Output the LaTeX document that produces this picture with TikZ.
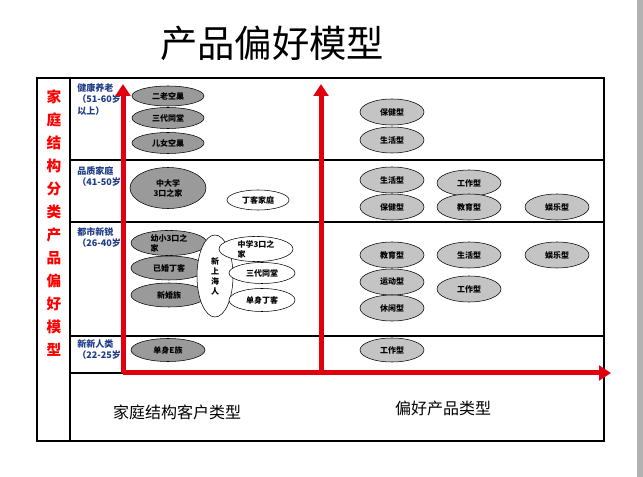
\documentclass[tikz,border=0pt]{standalone}
\usepackage{fontspec}
\setmainfont{Noto Sans CJK SC}
\usetikzlibrary{arrows.meta,shapes.geometric}
\definecolor{axisred}{HTML}{E00010}
\definecolor{darkfill}{HTML}{9A9A9A}
\definecolor{lightfill}{HTML}{C4C4C4}
\definecolor{rowblue}{HTML}{1F3C88}
\tikzset{every node/.style={font=\fontsize{6}{7.5}\selectfont\bfseries},line cap=round,line join=round}
\tikzset{
  esize/.style 2 args={minimum width=#1*0.75pt,minimum height=#2*0.75pt},
  darkell/.style={ellipse,draw,fill=darkfill,inner sep=0pt},
  lightell/.style={ellipse,draw,fill=lightfill,inner sep=0pt,esize={64}{26}},
  whiteell/.style={ellipse,draw,fill=white,inner sep=0pt},
  rowlabel/.style={anchor=north west,align=left,text=rowblue,inner sep=0pt,font=\fontsize{6.8}{8.6}\selectfont\bfseries},
  axis/.style={draw=axisred,line width=3.75pt,-{Triangle[length=9pt,width=11pt]}}
}

\begin{document}
\begin{tikzpicture}[x=0.75pt,y=-0.75pt]
  \path[use as bounding box] (0,0) rectangle (643,477);
  \fill[black!30] (637,0) rectangle (643,477);
  % table
  \draw[line width=1.1pt] (37,78) rectangle (604,441);
  \draw[line width=1.1pt] (70,78) -- (70,441);
  \foreach \y in {160,222,336,373}
    \draw[line width=1.1pt] (70,\y) -- (604,\y);
  % titles
  \node[font=\fontsize{28}{30}\selectfont] (title) at (272,43) {产品偏好模型};
  \node[text=red,align=center,font=\fontsize{11}{17.25}\selectfont\bfseries] (side) at (54,223.5)
    {家\\庭\\结\\构\\分\\类\\产\\品\\偏\\好\\模\\型};
  \node[font=\fontsize{12}{14}\selectfont] (custtype) at (177,412) {家庭结构客户类型};
  \node[font=\fontsize{12}{14}\selectfont] (preftype) at (443,408) {偏好产品类型};
  % row labels
  \node[rowlabel] (row1) at (77,83) {健康养老\\（51-60岁\\以上）};
  \node[rowlabel] (row2) at (77,166) {品质家庭\\（41-50岁）};
  \node[rowlabel] (row3) at (77,227) {都市新锐\\（26-40岁）};
  \node[rowlabel] (row4) at (77,339) {新新人类\\（22-25岁）};
  % customer types
  \node[darkell,esize={72}{20}] (erlao) at (168,96) {二老空巢};
  \node[darkell,esize={72}{21}] (sandai) at (168,118) {三代同堂};
  \node[darkell,esize={72}{21}] (ernv) at (168,143) {儿女空巢};
  \node[darkell,esize={76}{41},align=center] (zhongda) at (168,188) {中大学\\3口之家};
  \node[whiteell,esize={62}{20}] (dingke) at (258,200) {丁客家庭};
  \node[darkell,esize={76}{24},align=left] (youxiao) at (169,243) {幼小3口之\\家};
  \node[darkell,esize={76}{24}] (yihun) at (169,268) {已婚丁客};
  \node[darkell,esize={76}{24}] (xinhun) at (169,295) {新婚族};
  \node[whiteell,esize={36}{82},align=center] (xinshang) at (215,276) {新\\上\\海\\人};
  \node[whiteell,esize={74}{23},align=left] (zhongxue) at (256,249) {中学3口之\\家};
  \node[whiteell,esize={66}{21}] (sandaiw) at (262,273) {三代同堂};
  \node[whiteell,esize={66}{23}] (danshen) at (262,300) {单身丁客};
  \node[darkell,esize={74}{23}] (danshenE) at (168,350) {单身E族};
  % preference types
  \node[lightell] (baojian1) at (392,112) {保健型};
  \node[lightell] (shenghuo1) at (392,140) {生活型};
  \node[lightell] (shenghuo2) at (392,180) {生活型};
  \node[lightell] (gongzuo2) at (469,183) {工作型};
  \node[lightell] (baojian2) at (392,207) {保健型};
  \node[lightell] (jiaoyu2) at (469,207) {教育型};
  \node[lightell] (yule2) at (557,207) {娱乐型};
  \node[lightell] (jiaoyu3) at (392,255) {教育型};
  \node[lightell] (shenghuo3) at (469,255) {生活型};
  \node[lightell] (yule3) at (557,255) {娱乐型};
  \node[lightell] (yundong3) at (392,282) {运动型};
  \node[lightell] (gongzuo3) at (469,289) {工作型};
  \node[lightell] (xiuxian3) at (392,308) {休闲型};
  \node[lightell,esize={64}{24}] (gongzuo4) at (392,350) {工作型};
  % axes
  \coordinate (origin) at (123,373);
  \coordinate (ytop) at (123,84);
  \coordinate (xend) at (611,373);
  \coordinate (mid) at (321,373);
  \coordinate (midtop) at (321,84);
  \draw[axis] (origin) -- (ytop);
  \draw[axis] (origin) -- (xend);
  \draw[axis] (mid) -- (midtop);
\end{tikzpicture}
\end{document}
